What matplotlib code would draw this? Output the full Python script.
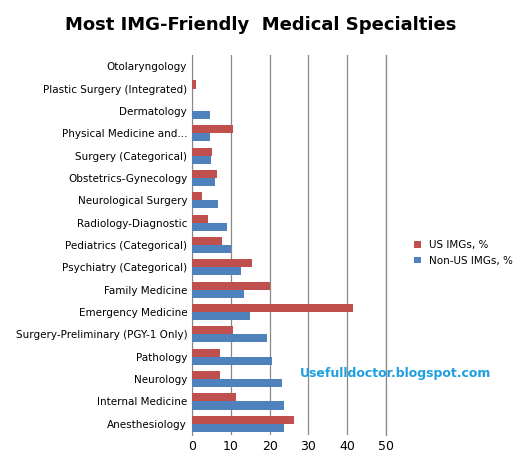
import numpy as np
import matplotlib.pyplot as plt

specialties = ['Anesthesiology', 'Internal Medicine', 'Neurology', 'Pathology',
               'Surgery-Preliminary (PGY-1 Only)', 'Emergency Medicine', 'Family Medicine',
               'Psychiatry (Categorical)', 'Pediatrics (Categorical)', 'Radiology-Diagnostic',
               'Neurological Surgery', 'Obstetrics-Gynecology', 'Surgery (Categorical)',
               'Physical Medicine and...', 'Dermatology', 'Plastic Surgery (Integrated)',
               'Otolaryngology']
us_imgs = [26.4, 11.4, 7.2, 7.2, 10.5, 41.4, 20.0, 15.5, 7.8, 4.1, 2.6, 6.5, 5.2, 10.6, 0, 1.0, 0]
non_us_imgs = [23.8, 23.8, 23.3, 20.7, 19.4, 15.0, 13.4, 12.7, 10.0, 9.0, 6.7, 5.9, 4.9, 4.7, 4.7, 0, 0]

fig = plt.figure(figsize=(5.22, 4.63), dpi=100)
ax = fig.add_axes([192 / 522, 28 / 463, 194 / 522, 380 / 463])

y = np.arange(len(specialties))
h = 0.36
ax.barh(y - h / 2, non_us_imgs, height=h, color='#4F81BD', label='Non-US IMGs, %', zorder=3)
ax.barh(y + h / 2, us_imgs, height=h, color='#C0504D', label='US IMGs, %', zorder=3)

ax.set_xlim(0, 50)
ax.set_ylim(-0.5, len(specialties) - 0.5)
ax.set_xticks(range(0, 51, 10))
ax.set_yticks(y)
ax.set_yticklabels(specialties, fontsize=7.5)
ax.tick_params(axis='x', labelsize=9, length=0)
ax.tick_params(axis='y', length=0)
ax.grid(axis='x', color='#888888', linewidth=0.9, zorder=0)
ax.axvline(50, color='#888888', linewidth=0.9, clip_on=False, zorder=0)
for s in ['top', 'right', 'bottom']:
    ax.spines[s].set_visible(False)
ax.spines['left'].set_color('#888888')

handles, labels = ax.get_legend_handles_labels()
fig.legend(handles[::-1], labels[::-1], loc='center left', bbox_to_anchor=(405 / 522, 1 - 253 / 463),
           frameon=False, fontsize=7.5, handlelength=0.6, handleheight=0.6)

fig.text(0.5, 1 - 25 / 463, 'Most IMG-Friendly  Medical Specialties', ha='center', va='center',
         fontsize=13, fontweight='bold')
fig.text(300 / 522, 1 - 373 / 463, 'Usefulldoctor.blogspot.com', color='#1E9FE0',
         fontsize=9, fontweight='bold', va='center')

fig.savefig('out.png', dpi=100)
